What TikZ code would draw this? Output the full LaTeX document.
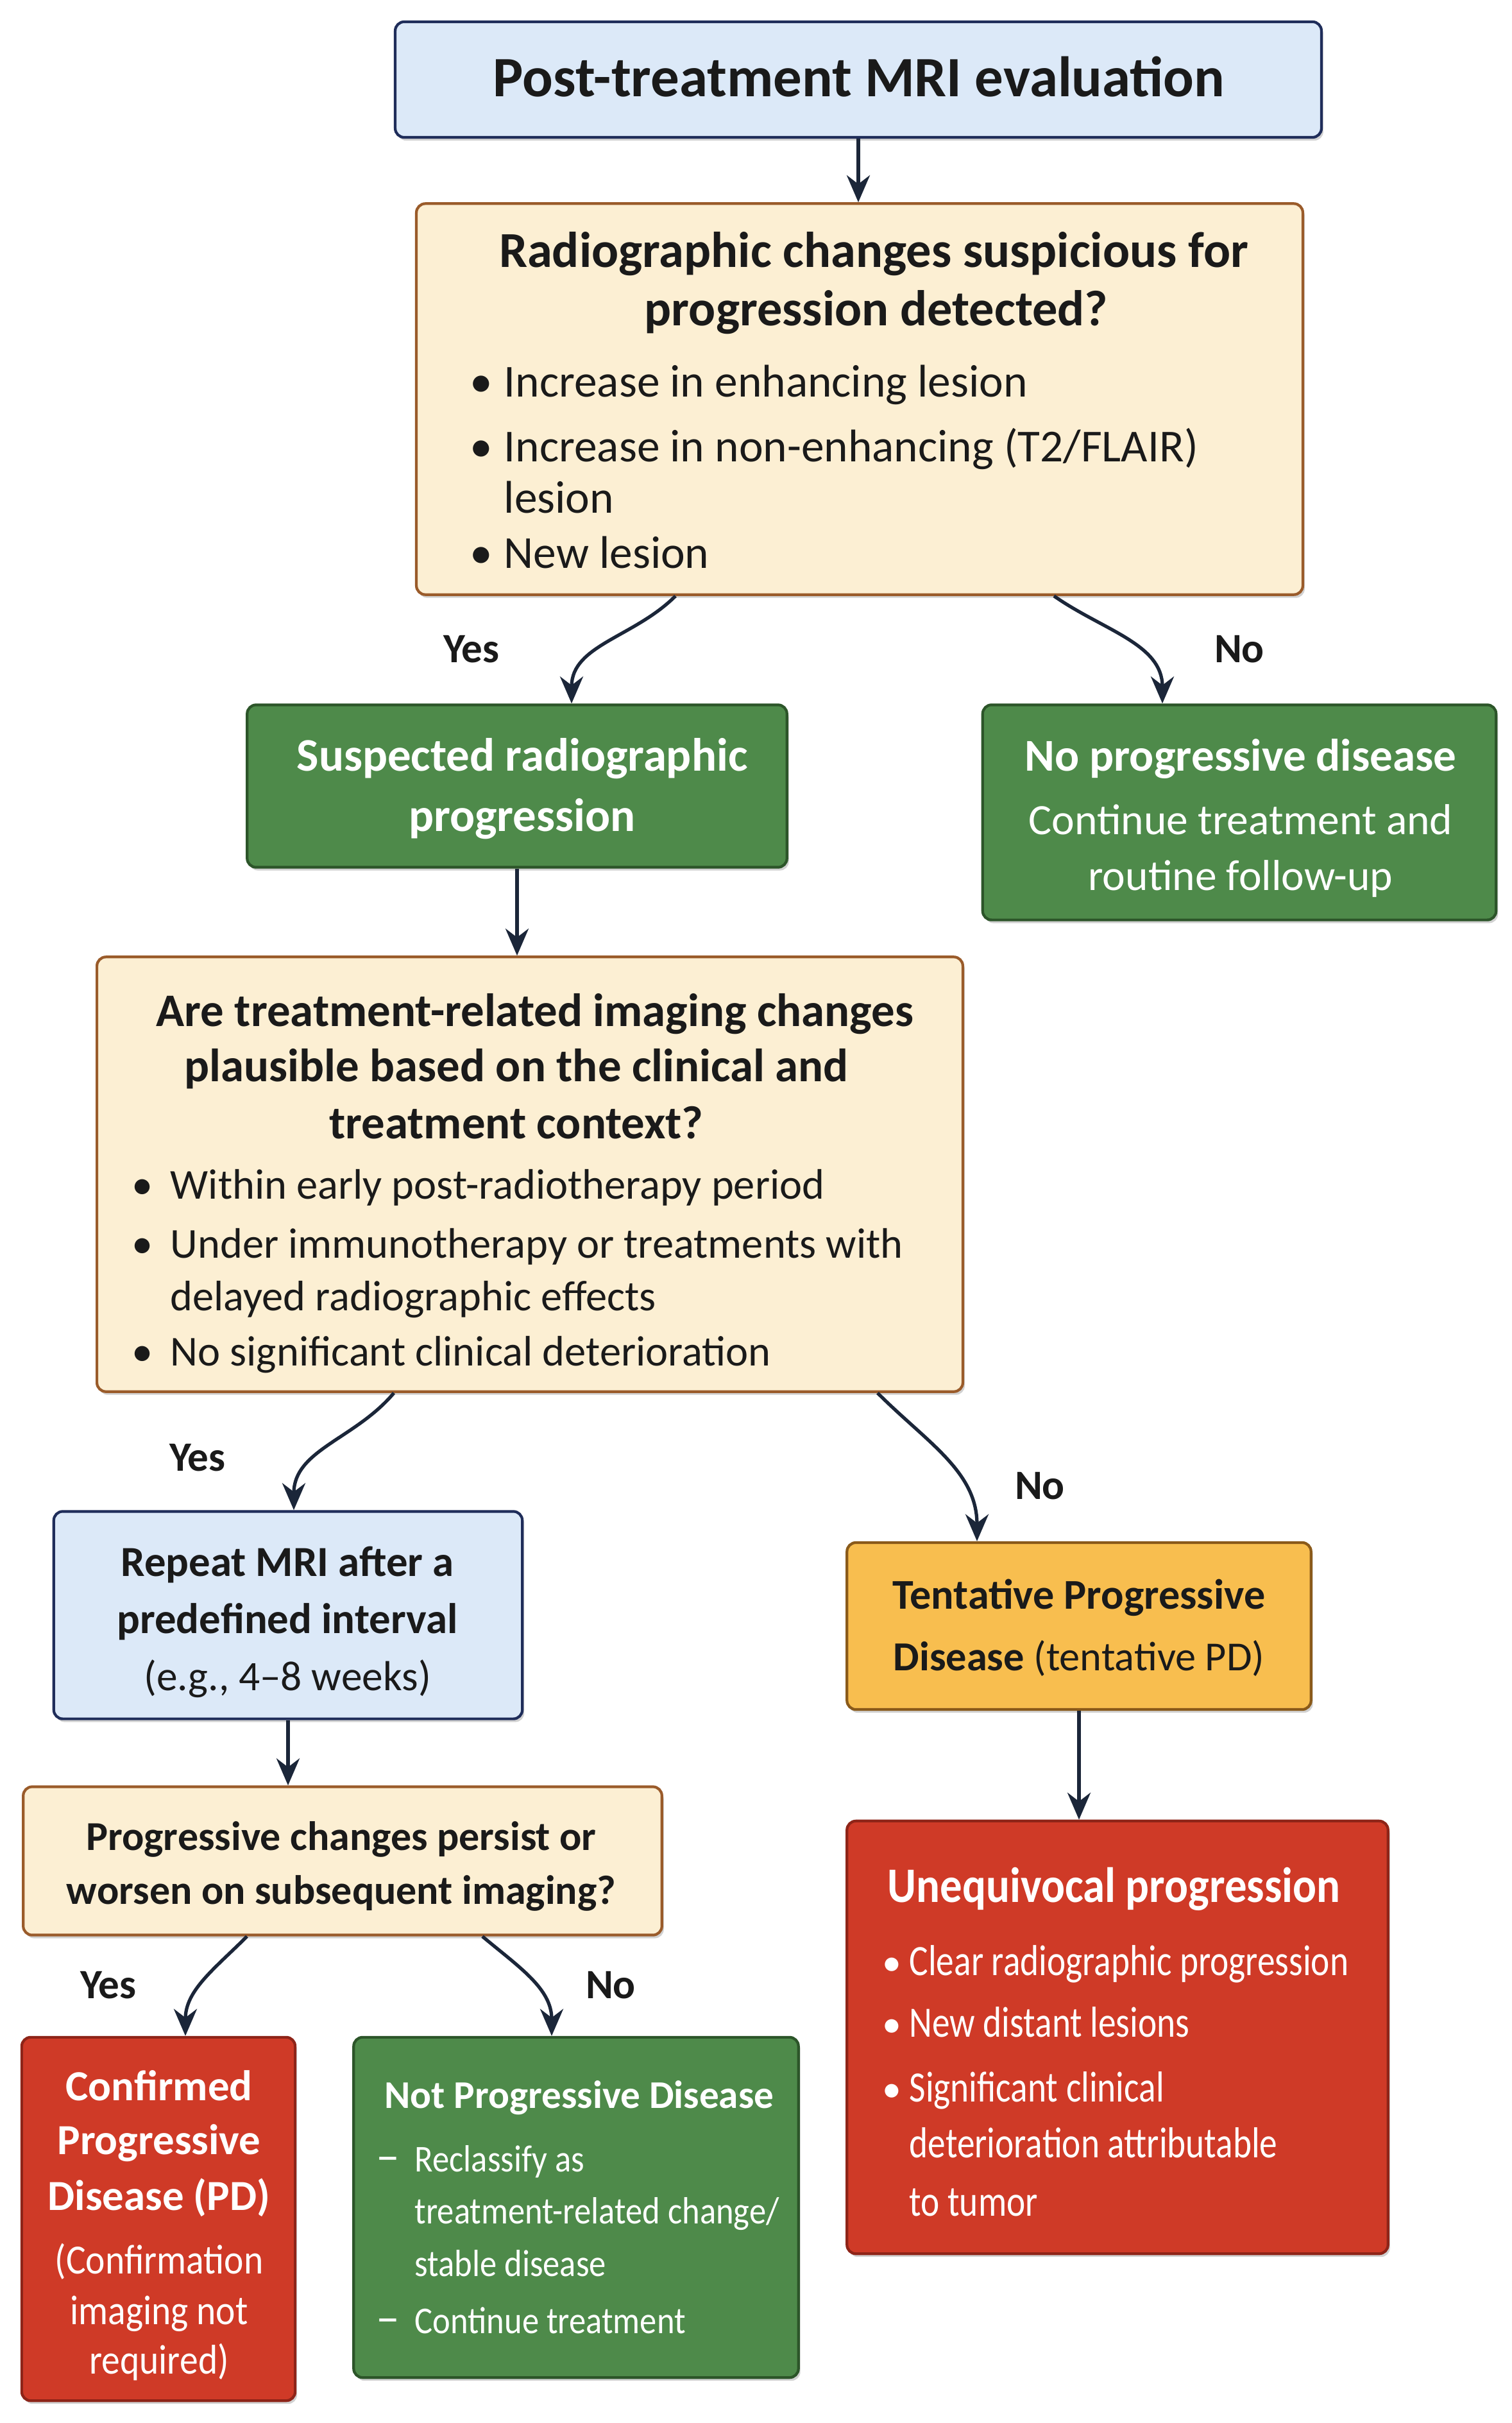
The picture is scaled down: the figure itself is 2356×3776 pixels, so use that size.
\documentclass[tikz,border=0pt]{standalone}
\usepackage{fontspec}
\setmainfont{Carlito}
\newfontfamily\cfA[FakeStretch=0.82]{Carlito}
\newfontfamily\cfB[FakeStretch=0.89]{Carlito}
\usetikzlibrary{arrows.meta,calc,shadows}
\definecolor{cBlue}{HTML}{DCE9F8}
\definecolor{cNavy}{HTML}{1F2D5A}
\definecolor{cCream}{HTML}{FCEFD3}
\definecolor{cBrown}{HTML}{9A5B2A}
\definecolor{cGreen}{HTML}{4E8A4A}
\definecolor{cGreenD}{HTML}{2C5529}
\definecolor{cOrange}{HTML}{F8BE4F}
\definecolor{cOrangeD}{HTML}{8A5A1A}
\definecolor{cRed}{HTML}{CF3A27}
\definecolor{cRedD}{HTML}{8E2418}
\definecolor{cArrow}{HTML}{1B2639}
\definecolor{cText}{HTML}{1A1A1A}
\newcommand\myfs[1]{\fontsize{#1}{#1}\selectfont}
\tikzset{
  box/.style={draw, rounded corners=0.14cm, line width=1.2pt, inner sep=0pt,
    drop shadow={shadow xshift=0.03cm, shadow yshift=-0.05cm, opacity=0.18, fill=black}},
  bluebox/.style={box, fill=cBlue, draw=cNavy},
  creambox/.style={box, fill=cCream, draw=cBrown},
  greenbox/.style={box, fill=cGreen, draw=cGreenD},
  orangebox/.style={box, fill=cOrange, draw=cOrangeD},
  redbox/.style={box, fill=cRed, draw=cRedD},
  dk/.style={inner sep=0pt, text=cText, yshift=-0.1cm},
  wt/.style={inner sep=0pt, text=white, yshift=-0.1cm},
  arr/.style={draw=cArrow, line width=1.5pt, -{Stealth[length=0.42cm,width=0.36cm]}},
  lab/.style={inner sep=0pt, text=cText, font=\myfs{18.5pt}\bfseries, anchor=mid, yshift=-0.1cm},
}
\begin{document}
\begin{tikzpicture}[x=0.01cm,y=-0.01cm]
\useasboundingbox (0,0) rectangle (2356,3776);
\fill[white] (0,0) rectangle (2356,3776);

% boxes
\node[bluebox, minimum width=14.43cm, minimum height=1.80cm] (top) at (1338,124) {};
\node[creambox, minimum width=13.81cm, minimum height=6.09cm] (q1) at (1340,622) {};
\node[greenbox, minimum width=8.41cm, minimum height=2.53cm] (susp) at (806,1225) {};
\node[greenbox, minimum width=8.00cm, minimum height=3.35cm] (nopd) at (1932,1266) {};
\node[creambox, minimum width=13.49cm, minimum height=6.77cm] (q2) at (826,1830) {};
\node[bluebox, minimum width=7.30cm, minimum height=3.23cm] (rep) at (449,2517) {};
\node[orangebox, minimum width=7.23cm, minimum height=2.60cm] (tent) at (1682,2534) {};
\node[creambox, minimum width=9.95cm, minimum height=2.31cm] (q3) at (534,2900) {};
\node[redbox, minimum width=8.43cm, minimum height=6.74cm] (uneq) at (1742,3175) {};
\node[redbox, minimum width=4.26cm, minimum height=5.66cm] (conf) at (247,3458) {};
\node[greenbox, minimum width=6.93cm, minimum height=5.30cm] (notpd) at (898,3440) {};

% top
\node[dk, anchor=mid] (ttop) at (1339,132) {\myfs{25.3pt}\bfseries Post-treatment MRI evaluation};

% q1
\node[dk, anchor=mid] (q1a) at (1362,398) {\myfs{22.3pt}\bfseries Radiographic changes suspicious for};
\node[dk, anchor=mid] (q1b) at (1366,489) {\myfs{22.3pt}\bfseries progression detected?};
\node[dk, anchor=mid] (q1d1) at (750,600) {\myfs{20.3pt}\textbullet};
\node[dk, anchor=mid west] (q1i1) at (785,600) {\myfs{20.3pt}Increase in enhancing lesion};
\node[dk, anchor=mid] (q1d2) at (750,701) {\myfs{20.3pt}\textbullet};
\node[dk, anchor=mid west] (q1i2) at (785,701) {\myfs{20.3pt}Increase in non-enhancing (T2/FLAIR)};
\node[dk, anchor=mid west] (q1i2b) at (785,781) {\myfs{20.3pt}lesion};
\node[dk, anchor=mid] (q1d3) at (750,867) {\myfs{20.3pt}\textbullet};
\node[dk, anchor=mid west] (q1i3) at (785,867) {\myfs{20.3pt}New lesion};

% labels 1
\node[lab] (yes1) at (735,1014) {Yes};
\node[lab] (no1) at (1932,1014) {No};

% susp
\node[wt, anchor=mid] (sa) at (814,1183) {\myfs{20.7pt}\bfseries Suspected radiographic};
\node[wt, anchor=mid] (sb) at (814,1277) {\myfs{20.7pt}\bfseries progression};

% nopd
\node[wt, anchor=mid] (na) at (1934,1183) {\myfs{20.2pt}\bfseries No progressive disease};
\node[wt, anchor=mid] (nb) at (1934,1282) {\myfs{19.2pt}Continue treatment and};
\node[wt, anchor=mid] (nc) at (1934,1369) {\myfs{19.2pt}routine follow-up};

% q2
\node[dk, anchor=mid] (q2a) at (834,1581) {\myfs{20.7pt}\bfseries Are treatment-related imaging changes};
\node[dk, anchor=mid] (q2b) at (805,1667) {\myfs{20.7pt}\bfseries plausible based on the clinical and};
\node[dk, anchor=mid] (q2c) at (805,1756) {\myfs{20.7pt}\bfseries treatment context?};
\node[dk, anchor=mid] (q2d1) at (222,1850) {\myfs{18.9pt}\textbullet};
\node[dk, anchor=mid west] (q2i1) at (265,1850) {\myfs{18.9pt}Within early post-radiotherapy period};
\node[dk, anchor=mid] (q2d2) at (222,1942) {\myfs{18.9pt}\textbullet};
\node[dk, anchor=mid west] (q2i2) at (265,1942) {\myfs{18.9pt}Under immunotherapy or treatments with};
\node[dk, anchor=mid west] (q2i2b) at (265,2024) {\myfs{18.9pt}delayed radiographic effects};
\node[dk, anchor=mid] (q2d3) at (222,2110) {\myfs{18.9pt}\textbullet};
\node[dk, anchor=mid west] (q2i3) at (265,2110) {\myfs{18.9pt}No significant clinical deterioration};

% labels 2
\node[lab] (yes2) at (308,2274) {Yes};
\node[lab] (no2) at (1621,2318) {No};

% repeat
\node[dk, anchor=mid] (ra) at (448,2438) {\myfs{19pt}\bfseries Repeat MRI after a};
\node[dk, anchor=mid] (rb) at (448,2527) {\myfs{19pt}\bfseries predefined interval};
\node[dk, anchor=mid] (rc) at (448,2616) {\myfs{18.6pt}(e.g., 4–8 weeks)};

% tentative
\node[dk, anchor=mid] (ta) at (1682,2489) {\myfs{18.8pt}\bfseries Tentative Progressive};
\node[dk, anchor=mid] (tb) at (1682,2585) {\myfs{18.3pt}\textbf{Disease} (tentative PD)};

% q3
\node[dk, anchor=mid] (q3a) at (532,2865) {\myfs{18.2pt}\bfseries Progressive changes persist or};
\node[dk, anchor=mid] (q3b) at (532,2949) {\myfs{18.2pt}\bfseries worsen on subsequent imaging?};

% labels 3
\node[lab] (yes3) at (169,3096) {Yes};
\node[lab] (no3) at (952,3096) {No};

% unequivocal
\node[wt, anchor=mid west] (ua) at (1383,2946) {\cfB\myfs{22pt}\bfseries Unequivocal progression};
\node[wt, anchor=mid] (ud1) at (1390,3060) {\myfs{17pt}\textbullet};
\node[wt, anchor=mid west] (ui1) at (1417,3060) {\cfA\myfs{19.2pt}Clear radiographic progression};
\node[wt, anchor=mid] (ud2) at (1390,3156) {\myfs{17pt}\textbullet};
\node[wt, anchor=mid west] (ui2) at (1417,3156) {\cfA\myfs{19.2pt}New distant lesions};
\node[wt, anchor=mid] (ud3) at (1390,3257) {\myfs{17pt}\textbullet};
\node[wt, anchor=mid west] (ui3) at (1417,3257) {\cfA\myfs{19.2pt}Significant clinical};
\node[wt, anchor=mid west] (ui3b) at (1417,3344) {\cfA\myfs{19.2pt}deterioration attributable};
\node[wt, anchor=mid west] (ui3c) at (1417,3435) {\cfA\myfs{19.2pt}to tumor};

% confirmed
\node[wt, anchor=mid] (ca) at (248,3255) {\myfs{19pt}\bfseries Confirmed};
\node[wt, anchor=mid] (cb) at (248,3339) {\myfs{19pt}\bfseries Progressive};
\node[wt, anchor=mid] (cc) at (248,3426) {\myfs{19pt}\bfseries Disease (PD)};
\node[wt, anchor=mid] (cd) at (248,3525) {\cfB\myfs{18.4pt}(Confirmation};
\node[wt, anchor=mid] (ce) at (248,3604) {\cfB\myfs{18.4pt}imaging not};
\node[wt, anchor=mid] (cf) at (248,3681) {\cfB\myfs{18.4pt}required)};

% not pd
\node[wt, anchor=mid] (pa) at (903,3267) {\myfs{17.4pt}\bfseries Not Progressive Disease};
\node[wt, anchor=mid] (pd1) at (605,3366) {\myfs{21pt}–};
\node[wt, anchor=mid west] (pi1) at (646,3366) {\cfB\myfs{16.8pt}Reclassify as};
\node[wt, anchor=mid west] (pi1b) at (646,3447) {\cfB\myfs{16.8pt}treatment-related change/};
\node[wt, anchor=mid west] (pi1c) at (646,3529) {\cfB\myfs{16.8pt}stable disease};
\node[wt, anchor=mid] (pd2) at (605,3618) {\myfs{21pt}–};
\node[wt, anchor=mid west] (pi2) at (646,3618) {\cfB\myfs{16.8pt}Continue treatment};

% connectors
\draw[arr] (top.south) -- (top.south |- q1.north);
\draw[arr] ($(q1.south)+(-287,0)$) to[out=-135,in=90] ($(susp.north)+(85,0)$);
\draw[arr] ($(q1.south)+(303,0)$) to[out=-35,in=90] ($(nopd.north)+(-120,0)$);
\draw[arr] (susp.south) -- (susp.south |- q2.north);
\draw[arr] ($(q2.south)+(-212,0)$) to[out=-130,in=90] ($(rep.north)+(9,0)$);
\draw[arr] ($(q2.south)+(542,0)$) to[out=-45,in=90] ($(tent.north)+(-159,0)$);
\draw[arr] (rep.south) -- (rep.south |- q3.north);
\draw[arr] (tent.south) -- (tent.south |- uneq.north);
\draw[arr] ($(q3.south)+(-149,0)$) to[out=-135,in=90] ($(conf.north)+(42,0)$);
\draw[arr] ($(q3.south)+(218,0)$) to[out=-40,in=90] ($(notpd.north)+(-38,0)$);
\end{tikzpicture}
\end{document}
